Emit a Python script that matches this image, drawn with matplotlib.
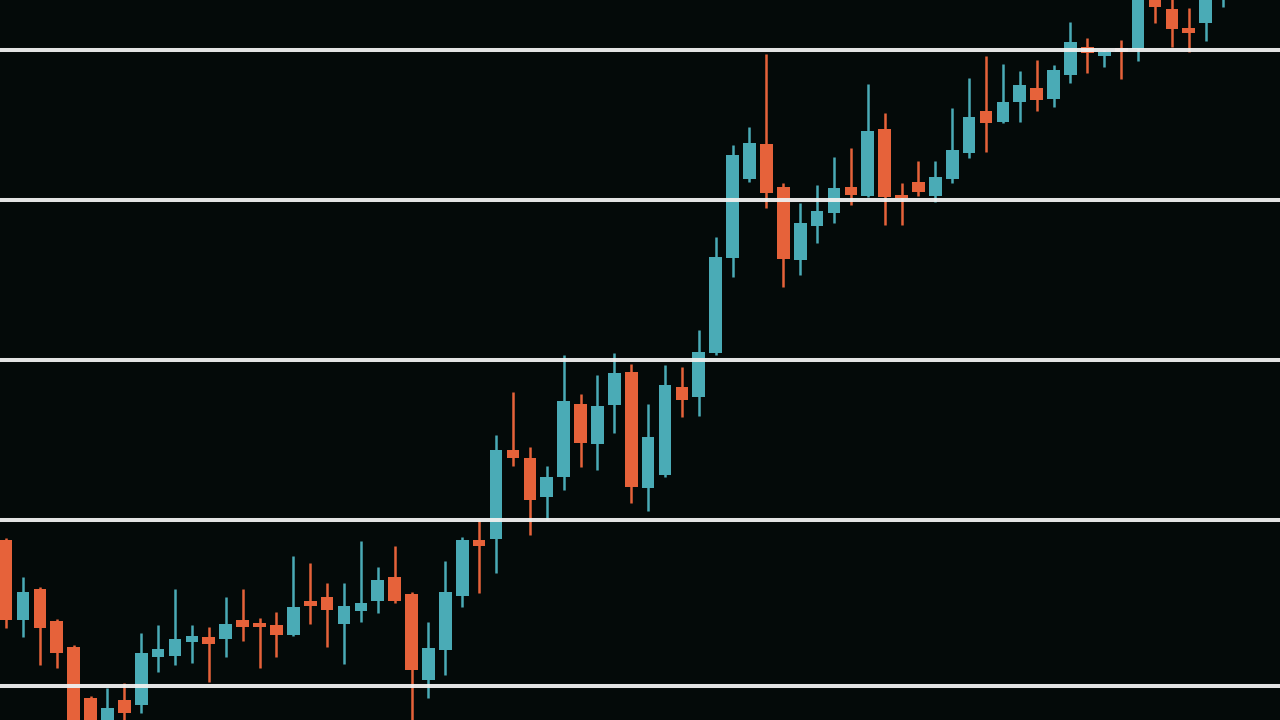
import numpy as np
import matplotlib
matplotlib.use("Agg")
import matplotlib.pyplot as plt

# OHLC values (arbitrary price units)
opens = [180, 100, 131, 99, 73, 22, -5, 20, 15, 63,
         64, 78, 83, 81, 100, 97, 95, 85, 119, 123,
         96, 109, 119, 143, 126, 40, 70, 124, 180, 181,
         270, 262, 223, 243, 316, 276, 315, 348, 232, 245,
         333, 323, 367, 462, 541, 576, 533, 460, 494, 507,
         533, 524, 591, 525, 538, 524, 541, 567, 609, 598,
         618, 632, 621, 645, 673, 664, 672, 671, 735, 711,
         692, 697, 730]
closes = [100, 128, 92, 67, -20, -20, 12, 7, 67, 71,
          81, 84, 76, 96, 93, 93, 85, 113, 114, 110,
          114, 117, 140, 119, 50, 72, 128, 180, 174, 270,
          262, 220, 243, 319, 277, 314, 347, 233, 283, 335,
          320, 368, 463, 565, 577, 527, 461, 497, 509, 532,
          525, 589, 523, 522, 528, 543, 570, 603, 597, 618,
          635, 620, 650, 678, 667, 668, 668, 740, 713, 691,
          687, 730, 740]
highs = [182, 143, 133, 101, 75, 24, 32, 37, 87, 95,
         131, 95, 93, 123, 131, 102, 108, 164, 157, 137,
         137, 179, 153, 174, 128, 98, 159, 183, 200, 285,
         328, 273, 254, 365, 326, 345, 367, 356, 316, 355,
         353, 390, 483, 575, 593, 666, 537, 517, 535, 563,
         572, 636, 607, 537, 559, 559, 612, 642, 664, 656,
         649, 660, 655, 698, 682, 670, 680, 745, 740, 725,
         712, 735, 745]
lows = [92, 83, 55, 52, -40, -40, -20, -20, 7, 48,
        55, 57, 38, 63, 79, 52, 63, 84, 96, 73,
        56, 98, 107, 117, -20, 22, 45, 113, 127, 147,
        254, 185, 200, 230, 253, 250, 287, 217, 209, 243,
        303, 304, 365, 443, 538, 512, 433, 445, 477, 497,
        515, 523, 495, 495, 524, 518, 537, 562, 568, 597,
        598, 609, 613, 637, 647, 653, 641, 659, 697, 673,
        668, 679, 713]
levels = [670, 520, 360, 200, 34]

BG = "#040a09"
UP = "#4aabb6"
DOWN = "#e6623a"

opens = np.array(opens)
closes = np.array(closes)
x = np.arange(len(opens))
colors = [UP if c >= o else DOWN for o, c in zip(opens, closes)]

fig = plt.figure(figsize=(12.8, 7.2), dpi=100, facecolor=BG)
ax = fig.add_axes([0, 0, 1, 1])
ax.set_facecolor(BG)

# wicks first, bodies on top, then the white level lines over everything
ax.vlines(x, lows, highs, colors=colors, linewidth=1.8, zorder=2)
ax.bar(x, closes - opens, bottom=opens, width=0.75, color=colors,
       linewidth=0, zorder=3)

for lv in levels:
    ax.axhline(lv, color="#f0f0f0", linewidth=2.9, alpha=0.95, zorder=4)

ax.set_xlim(-0.36, 75.4)
ax.set_ylim(0, 720)
ax.axis("off")

fig.savefig("out.png", dpi=100, facecolor=BG)
